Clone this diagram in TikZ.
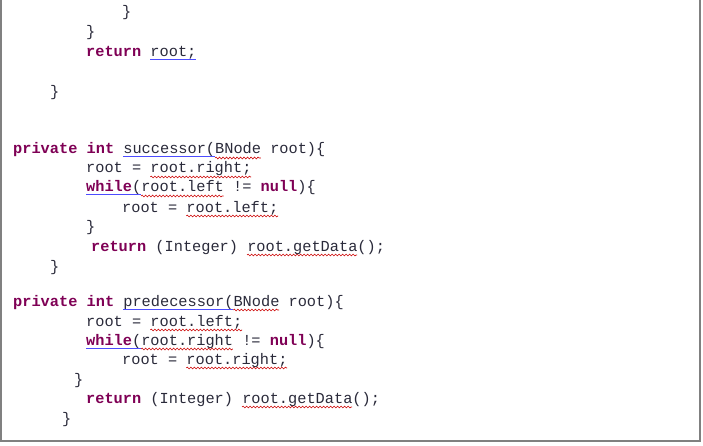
\documentclass[tikz,border=0pt]{standalone}
\usepackage{fontspec}
\setmonofont{Liberation Mono}
\usetikzlibrary{decorations.pathmorphing}
\definecolor{kw}{HTML}{7F0055}
\definecolor{txt}{HTML}{2A2A3A}
\definecolor{frame}{HTML}{808080}
\newcommand{\kw}[1]{\textcolor{kw}{\textbf{#1}}}
\tikzset{code/.style={anchor=base west,inner sep=0pt,text=txt,font=\ttfamily\fontsize{15.3}{18}\selectfont},
wavy/.style={draw=red!80!black,line width=0.6pt,decorate,decoration={snake,amplitude=0.9,segment length=3.5}},
blu/.style={draw=blue!70!white,line width=1pt}}
\newcommand{\wv}[4]{\draw[wavy] (#1+9.18*#3,#2+4) -- (#1+9.18*#3+9.18*#4,#2+4);}
\newcommand{\bl}[4]{\draw[blu] (#1+9.18*#3,#2+3) -- (#1+9.18*#3+9.18*#4,#2+3);}
\begin{document}
\begin{tikzpicture}[x=1pt,y=-1pt]
\useasboundingbox (0,0) rectangle (703,446);
\fill[white] (0,0) rectangle (703,446);
\draw[frame,line width=1.5pt] (1,0) -- (1,441) -- (700,441) -- (700,0);
\node[code] (l1) at (122,17) {\}};
\node[code] (l2) at (86,37) {\}};
\node[code] (l3) at (86,57) {\kw{return} root;};
\node[code] (l4) at (50,97) {\}};
\node[code] (l5) at (13,154) {\kw{private int} successor(BNode root)\{};
\node[code] (l6) at (86,173) {root = root.right;};
\node[code] (l7) at (86,192) {\kw{while}(root.left != \kw{null})\{};
\node[code] (l8) at (122,212) {root = root.left;};
\node[code] (l9) at (86,231) {\}};
\node[code] (l10) at (91,251) {\kw{return} (Integer) root.getData();};
\node[code] (l11) at (50,271) {\}};
\node[code] (l12) at (13,306) {\kw{private int} predecessor(BNode root)\{};
\node[code] (l13) at (86,326) {root = root.left;};
\node[code] (l14) at (86,345) {\kw{while}(root.right != \kw{null})\{};
\node[code] (l15) at (122,364) {root = root.right;};
\node[code] (l16) at (74,384) {\}};
\node[code] (l17) at (86,403) {\kw{return} (Integer) root.getData();};
\node[code] (l18) at (62,423) {\}};
\bl{86}{57}{7}{5}
\bl{13}{154}{12}{10}\wv{13}{154}{22}{5}
\wv{86}{173}{7}{11}
\bl{86}{192}{0}{6}\wv{86}{192}{6}{9}
\wv{122}{212}{7}{10}
\wv{91}{251}{17}{12}
\bl{13}{306}{12}{12}\wv{13}{306}{24}{5}
\wv{86}{326}{7}{10}
\bl{86}{345}{0}{6}\wv{86}{345}{6}{10}
\wv{122}{364}{7}{11}
\wv{86}{403}{17}{12}
\end{tikzpicture}
\end{document}
